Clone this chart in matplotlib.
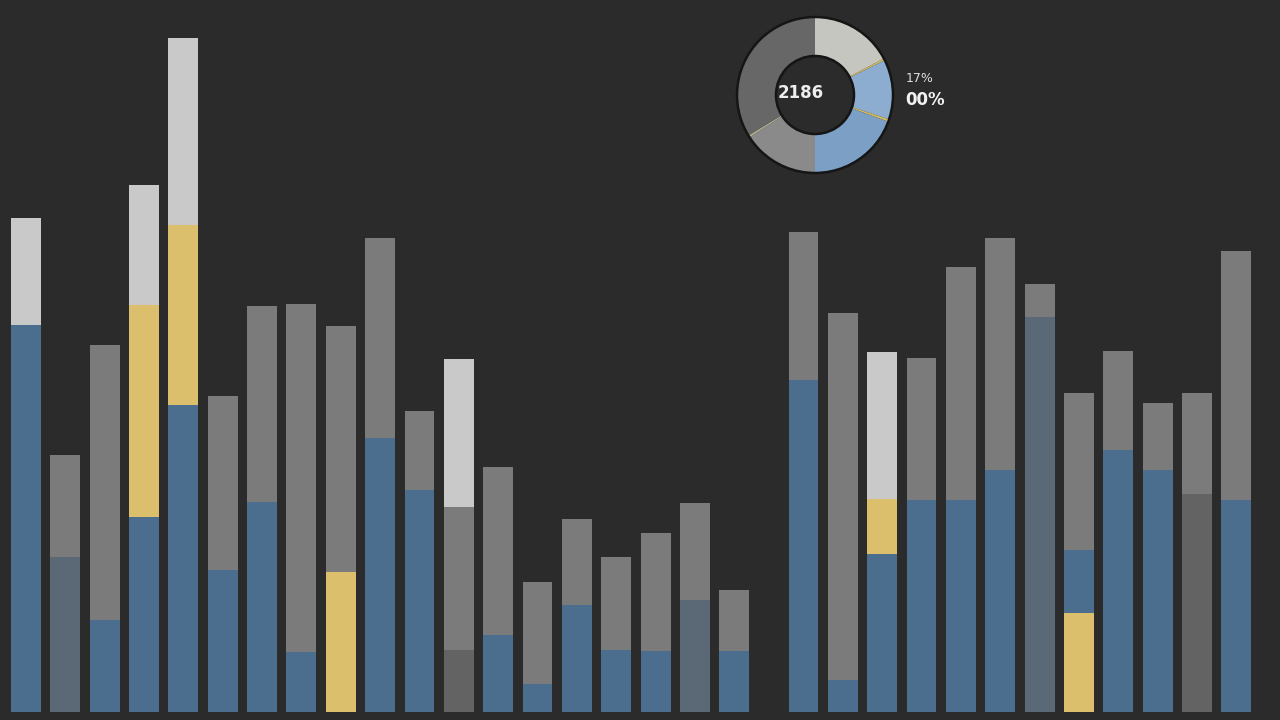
"""Dark stacked-bar dashboard panel with a small donut summary."""

import matplotlib

matplotlib.use("Agg")
import matplotlib.pyplot as plt
import numpy as np
from matplotlib.patches import Circle

# ---- data -----------------------------------------------------------------
# left group (19 bars) then right group (12 bars)
base_gold = [0, 0, 0, 0, 0, 0, 0, 0, 0, 0, 0, 0, 0, 0, 0, 0, 0, 0, 0,
             0, 0, 0, 0, 0, 0, 0, 9.9, 0, 0, 0, 0]
dark = [0, 0, 0, 0, 0, 0, 0, 0, 0, 0, 0, 6.2, 0, 0, 0, 0, 0, 0, 0,
        0, 0, 0, 0, 0, 0, 0, 0, 0, 0, 21.8, 0]
slate = [0, 15.5, 0, 0, 0, 0, 0, 0, 0, 0, 0, 0, 0, 0, 0, 0, 0, 11.2, 0,
         0, 0, 0, 0, 0, 0, 39.5, 0, 0, 0, 0, 0]
blue = [38.7, 0, 9.2, 19.5, 30.7, 14.2, 21.0, 6.0, 0, 27.4, 22.2, 0, 7.7, 2.8, 10.7, 6.2, 6.1, 0, 6.1,
        33.2, 3.2, 15.8, 21.2, 21.2, 24.2, 0, 6.3, 26.2, 24.2, 0, 21.2]
gold = [0, 0, 0, 21.2, 18.0, 0, 0, 0, 14.0, 0, 0, 0, 0, 0, 0, 0, 0, 0, 0,
        0, 0, 5.5, 0, 0, 0, 0, 0, 0, 0, 0, 0]
grey = [0, 10.2, 27.5, 0, 0, 17.4, 19.6, 34.8, 24.6, 20.0, 7.9, 14.3, 16.8, 10.2, 8.6, 9.3, 11.8, 9.7, 6.1,
        14.8, 36.7, 0, 14.2, 23.3, 23.2, 3.3, 15.7, 9.9, 6.7, 10.1, 24.9]
light = [10.7, 0, 0, 12.0, 18.7, 0, 0, 0, 0, 0, 0, 14.8, 0, 0, 0, 0, 0, 0, 0,
         0, 0, 14.7, 0, 0, 0, 0, 0, 0, 0, 0, 0]

donut_values = [17.2, 0.4, 12.4, 0.5, 19.4, 15.8, 0.5, 33.6]
donut_center = "2186"
donut_labels = ["17%", "00%"]

# ---- style ----------------------------------------------------------------
BG = "#2b2b2b"
C_BLUE = "#4b6d8e"
C_SLATE = "#5b6976"
C_GOLD = "#dcbf6c"
C_GREY = "#7b7b7b"
C_LIGHT = "#c9c9c9"
C_DARK = "#636363"
donut_colors = ["#c6c6c0", "#d4bd5a", "#8cadd0", "#d4bd5a", "#7b9fc5", "#8a8a8a", "#aaa88e", "#676767"]

n_left = 19
positions = np.concatenate([np.arange(n_left), n_left + 0.76 + np.arange(len(blue) - n_left)])

fig = plt.figure(figsize=(12.8, 7.2), dpi=100)
fig.patch.set_facecolor(BG)

ax = fig.add_axes([0, 0, 1, 1])
ax.set_facecolor(BG)
bottom = np.zeros(len(blue))
for values, color in [(base_gold, C_GOLD), (dark, C_DARK), (slate, C_SLATE), (blue, C_BLUE),
                      (gold, C_GOLD), (grey, C_GREY), (light, C_LIGHT)]:
    values = np.asarray(values, dtype=float)
    ax.bar(positions, values, bottom=bottom, width=0.76, color=color, linewidth=0)
    bottom += values
ax.set_xlim(-0.661, 31.87)
ax.set_ylim(-0.8, 71.2)
ax.axis("off")

# donut
dax = fig.add_axes([737 / 1280, 547 / 720, 156 / 1280, 156 / 720])
dax.set_facecolor("none")
dax.pie(donut_values, colors=donut_colors, startangle=90, counterclock=False, radius=1,
        wedgeprops=dict(width=0.5, linewidth=0))
dax.add_patch(Circle((0, 0), 1.0, fill=False, edgecolor="#151515", linewidth=1.8, clip_on=False))
dax.add_patch(Circle((0, 0), 0.5, fill=False, edgecolor="#151515", linewidth=1.8, clip_on=False))
dax.set_xlim(-1.0, 1.0)
dax.set_ylim(-1.0, 1.0)
dax.set_aspect("equal")
dax.axis("off")
dax.text(-0.18, 0.02, donut_center, ha="center", va="center", fontsize=12,
         fontweight="bold", color="#eeeeee")

fig.text(906 / 1280, 1 - 79 / 720, donut_labels[0], ha="left", va="center", fontsize=9, color="#dddddd")
fig.text(905 / 1280, 1 - 100 / 720, donut_labels[1], ha="left", va="center", fontsize=12,
         fontweight="bold", color="#f2f2f2")

fig.savefig("out.png", dpi=100, facecolor=BG)
plt.close(fig)
